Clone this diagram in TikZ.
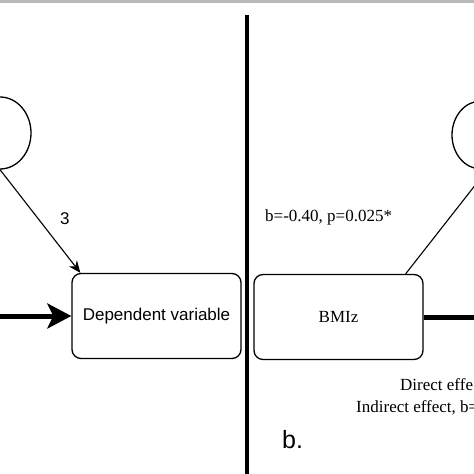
\documentclass[tikz,border=0pt]{standalone}
\usepackage{fontspec}
\setmainfont{Liberation Serif}
\setsansfont{Liberation Sans}
\usetikzlibrary{arrows.meta,shapes.geometric,calc}
\tikzset{
  varbox/.style={draw, line width=1.3pt, rounded corners=9pt, minimum width=169pt, minimum height=85pt, inner sep=0pt, anchor=center},
  latent/.style={draw, ellipse, line width=1.3pt, inner sep=0pt},
  path/.style={line width=1.1pt},
  thickpath/.style={line width=5pt},
  sanstxt/.style={font=\sffamily\fontsize{17}{20}\selectfont, inner sep=0pt},
  seriftxt/.style={font=\rmfamily\fontsize{17}{20}\selectfont, inner sep=0pt},
}
\begin{document}
\begin{tikzpicture}[x=1pt, y=-1pt]
    \useasboundingbox (0,0) rectangle (474,474);
    \clip (0,0) rectangle (474,474);
    \fill[gray!55] (0,0) rectangle (474,2.5);
    % panel a
    \node[latent, minimum width=62pt, minimum height=72pt] (lat-a) at (0,133) {};
    \node[varbox, sanstxt] (dep) at (156.5,316) {Dependent variable};
    \coordinate (in-a) at (-6,316);
    \draw[path, -{Stealth[length=12pt,width=10pt]}] (lat-a.south) -- ([xshift=9pt]dep.north west);
    \draw[thickpath, -{Stealth[length=24pt,width=25pt,inset=6pt]}] (in-a) -- (dep.west);
    \node[sanstxt, anchor=base west] (lbl-3) at (60,224) {3};
    % divider
    \draw[line width=4pt] (247,15) -- (247,480);
    % panel b
    \node[latent, minimum width=58pt, minimum height=68pt] (lat-b) at (481,135) {};
    \node[varbox, seriftxt] (bmi) at (338.5,317) {BMIz};
    \coordinate (out-b) at (480,317);
    \draw[path] (lat-b.-78) -- ([xshift=-18pt]bmi.north east);
    \draw[thickpath] (bmi.east) -- (out-b);
    \node[seriftxt, anchor=base west] (lbl-b) at (265,221) {b=-0.40, p=0.025*};
    \node[seriftxt, anchor=base west] (lbl-dir) at (400,390.5) {Direct effe};
    \node[seriftxt, anchor=base west] (lbl-ind) at (356,412) {Indirect effect, b=};
    \node[font=\sffamily\fontsize{25}{28}\selectfont, inner sep=0pt, anchor=base west] (panel-b) at (282,448) {b.};
\end{tikzpicture}
\end{document}
